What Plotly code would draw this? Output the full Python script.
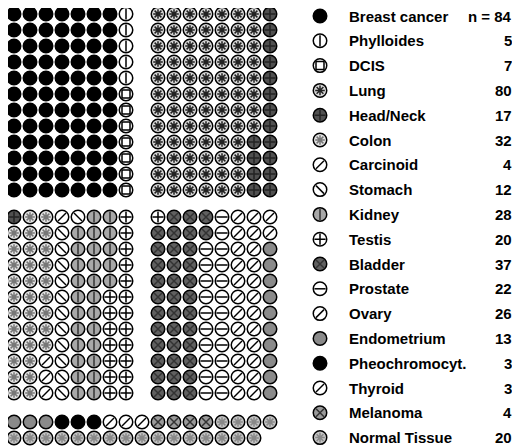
import plotly.graph_objects as go

categories = ["Breast cancer", "Phylloides", "DCIS", "Lung", "Head/Neck", "Colon", "Carcinoid",
              "Stomach", "Kidney", "Testis", "Bladder", "Prostate", "Ovary", "Endometrium",
              "Pheochromocyt.", "Thyroid", "Melanoma", "Normal Tissue"]
counts = [84, 5, 7, 80, 17, 32, 4, 12, 28, 20, 37, 22, 26, 13, 3, 3, 4, 20]

fills = ["#000000", "#ffffff", "#ffffff", "#d8d8d8", "#505050", "#e4e4e4", "#ffffff", "#ffffff",
         "#a8a8a8", "#ffffff", "#606060", "#ffffff", "#ffffff", "#8a8a8a", "#000000", "#ffffff",
         "#9a9a9a", "#c4c4c4"]
overlay = [None, "line-ns", "square-open", "asterisk", "cross-thin", "asterisk", "line-ne", "line-nw",
           "line-ns", "cross-thin", "x-thin", "line-ew", "line-ne", None, None, "line-ne", "x-thin", "asterisk"]
ocol = ["#fff", "#000", "#000", "#222", "#222", "#777", "#000", "#000", "#333", "#000", "#333",
        "#000", "#000", "#000", "#000", "#000", "#333", "#888"]

seq = []
for i, c in enumerate(counts):
    seq += [i] * c

pos = []
blocks = [(12, 12), (156, 12), (12, 215), (156, 215)]
pitch = 16
for bx, by in blocks:
    for col in range(8):
        for row in range(12):
            pos.append((bx + col * pitch, by + row * pitch))
for row in range(2):
    for col in range(17):
        pos.append((12 + col * pitch, 420 + row * 16))

fig = go.Figure()
for i in range(len(categories)):
    pts = [pos[k] for k, s in enumerate(seq) if s == i and k < len(pos)]
    ly = 14 + i * 24.8
    xs = [p[0] for p in pts] + [318]
    ys = [p[1] for p in pts] + [ly]
    fig.add_trace(go.Scatter(x=xs, y=ys, mode="markers",
                             marker=dict(symbol="circle", size=13.5, color=fills[i],
                                         line=dict(color="#000", width=1.5)),
                             hoverinfo="skip"))
    if overlay[i]:
        fig.add_trace(go.Scatter(x=xs, y=ys, mode="markers",
                                 marker=dict(symbol=overlay[i], size=8, color=ocol[i],
                                             line=dict(color=ocol[i], width=1.5)),
                                 hoverinfo="skip"))
    fig.add_annotation(x=345, y=ly, text="<b>%s</b>" % categories[i], showarrow=False,
                       xanchor="left", yanchor="middle", font=dict(size=15, color="#000", family="Liberation Sans"))
    fig.add_annotation(x=512, y=ly, text="<b>%s%d</b>" % ("n = " if i == 0 else "", counts[i]),
                       showarrow=False, xanchor="right", yanchor="middle",
                       font=dict(size=15, color="#000", family="Liberation Sans"))

fig.update_layout(width=520, height=447, margin=dict(l=0, r=0, t=0, b=0),
                  paper_bgcolor="white", plot_bgcolor="white", showlegend=False,
                  xaxis=dict(range=[6, 526], visible=False, fixedrange=True),
                  yaxis=dict(range=[453, 6], visible=False, fixedrange=True))
fig.write_html("out.html")
